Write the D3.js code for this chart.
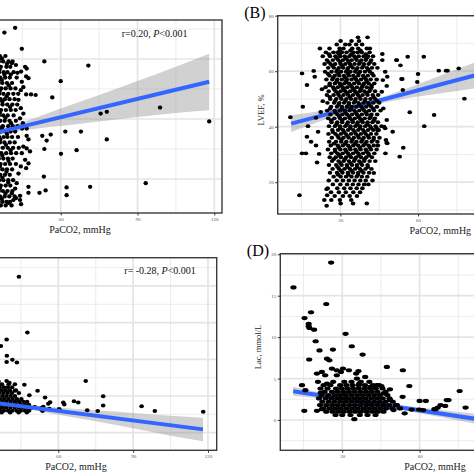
<!DOCTYPE html>
<html>
<head>
<meta charset="utf-8">
<script src="https://cdn.jsdelivr.net/npm/d3@7"></script>
<style>
  body { margin: 0; background: #fff; overflow: hidden; }
  svg { display: block; }
</style>
</head>
<body>
<div class="chart"></div>
<script>
// ---- data ----
var xTicks = [30, 60, 90, 120];
var xMinor = [15, 45, 75, 105];
var yTicksA = [10, 20, 30], yMinorA = [15, 25, 35];
var yTicksB = [20, 40, 60, 80], yMinorB = [10, 30, 50, 70];
var yTicksC = [0, 10, 20, 30, 40], yMinorC = [5, 15, 25, 35, 45];
var yTicksD = [0, 5, 10, 15, 20], yMinorD = [-2.5, 2.5, 7.5, 12.5, 17.5];

var statA = 'r=0.20, ';
var statC = 'r= -0.28, ';
var titleB = 'LVEF, %';
var titleD = 'Lac, mmol/L';
var xTitle = 'PaCO2, mmHg';

// regression fits (ends) and confidence band
var fitX = [11, 118];
var fitA = [15.3, 26.2];
var fitB = [41.1, 67.3];
var fitC = [10.2, 0.9];
var fitD = [3.47, -1.58];
var ciX = [11, 25, 38, 50, 60, 75, 90, 105, 118];
var ciLoA = [13.8, 15.87, 17.49, 18.36, 18.83, 19.6, 20.33, 21.0, 21.47];
var ciHiA = [16.8, 17.57, 18.59, 20.16, 21.73, 24.0, 26.33, 28.7, 30.87];
var ciLoB = [38.1, 42.9, 46.9, 49.3, 50.9, 52.9, 54.8, 56.8, 58.5];
var ciHiB = [44.1, 46.1, 48.5, 51.9, 55.3, 60.7, 66.0, 71.4, 76.1];
var ciLoC = [8.7, 8.2, 7.3, 6.1, 4.9, 3.1, 1.2, -0.8, -2.3];
var ciHiC = [11.7, 9.8, 8.3, 7.5, 6.9, 6.1, 5.4, 4.6, 4.1];
var ciLoD = [2.92, 2.5, 1.99, 1.38, 0.8, -0.05, -0.96, -1.82, -2.58];
var ciHiD = [4.02, 3.1, 2.39, 1.88, 1.5, 0.95, 0.44, -0.12, -0.58];

var pointsA = [
  [38,34.4],[42.2,35.2],[44.8,31.7],[53.6,29.6],[70.8,28.9],[60,26.3],[56.7,23.6],[48.4,24.1],[50.2,24],[46.5,24.1],
  [75.6,20.9],[78,21.2],[98.8,21.9],[118,19.6],[61.8,17.9],[67.9,17.9],[52.8,17.2],[56.1,17.4],[54.5,16.4],[78,16.6],
  [53.6,15],[60.1,14.2],[66.2,14.8],[93.2,9.3],[71.5,8.7],[62.3,8.6],[62.3,7.3],[53.4,10.4],[54.1,8.1],[51.7,7.7],
  [47.4,8.7],[47.4,7.7],[44.1,7.2],[44.1,6.5],[44.5,5.8],
  [40.9,29.3],[42.5,29],[46.1,28.7],[46.7,28.4],[44.5,27.9],[43.1,27.7],[46.5,27.1],[47.4,26.8],[44.8,26.2],[45.4,25.3],
  [44.4,24.8],[43.5,23.2],[44.4,21.8],[45.4,20.9],[44.1,20.1],[45.2,19.3],[46.7,18.4],[44.1,18.7],[44.9,18.4],[46.7,17.2],
  [47.4,16.6],[45.4,15.4],[46.7,15.1],[48,14.6],[44.8,14.3],[46.1,13.2],[47.4,12.6],[44.4,12.1],[46.5,11.8],[43.5,10.9],
  [42.8,9.3],[42.2,8.4],[40.9,7.6],[42.5,6.8],[41.5,6.5],[40.2,6.2],
  [36.2,30.5],[38.4,30.5],[35.8,29.6],[37.5,29.6],[39.6,29.6],[41.2,29.6],[36.6,28.7],[38.8,28.7],[40.3,28.7],
  [35.9,27.8],[37.7,27.8],[39.2,27.8],[41.6,27.8],[36.4,26.9],[38.3,26.9],[40.1,26.9],[42.8,26.9],
  [35.7,26],[37.2,26],[39,26],[41,26],[36.8,25.1],[38.5,25.1],[40.4,25.1],[42.3,25.1],
  [35.9,24.2],[37.6,24.2],[39.5,24.2],[41.5,24.2],[43.4,24.2],[36.5,23.3],[38.2,23.3],[40,23.3],[42,23.3],
  [35.6,22.4],[37.3,22.4],[39.1,22.4],[41.1,22.4],[43,22.4],[36.7,21.5],[38.6,21.5],[40.5,21.5],[42.4,21.5],
  [35.8,20.6],[37.5,20.6],[39.3,20.6],[41.6,20.6],[36.4,19.7],[38.1,19.7],[40,19.7],[42.5,19.7],
  [35.7,18.8],[37.4,18.8],[39.5,18.8],[41.3,18.8],[43.1,18.8],[36.6,17.9],[38.5,17.9],[40.4,17.9],[42.2,17.9],
  [35.9,17],[37.7,17],[39.2,17],[41,17],[43.3,17],[36.3,16.1],[38,16.1],[40.1,16.1],[42,16.1],
  [35.6,15.2],[37.4,15.2],[39.3,15.2],[41.4,15.2],[43.6,15.2],[36.8,14.3],[38.7,14.3],[40.6,14.3],[42.6,14.3],
  [35.8,13.4],[37.6,13.4],[39.4,13.4],[41.2,13.4],[36.5,12.5],[38.3,12.5],[40.2,12.5],[42.5,12.5],
  [35.7,11.6],[37.3,11.6],[39,11.6],[41,11.6],[36.4,10.7],[38.2,10.7],[40.1,10.7],
  [35.9,9.8],[37.6,9.8],[39.5,9.8],[41.4,9.8],[36.6,8.9],[38.5,8.9],[40.3,8.9],
  [35.8,8],[37.4,8],[39.2,8],[41.1,8],[36.3,7.1],[38.1,7.1],[39.9,7.1],[42,7.1],
  [35.7,6.2],[37.3,6.2],[38.9,6.2],[36.6,5.6],[38.5,5.6],[40.8,5.6],
  [37,30.1],[39,29.2],[36.1,28.3],[38,27.4],[40.5,27.4],[37,26.5],[39.7,25.6],[36.2,24.7],[38.9,23.8],[37.2,22.9],
  [40.2,22],[36.2,21.1],[38.4,20.2],[40.6,19.3],[37,18.4],[39,17.5],[36.4,16.6],[38.6,15.7],[40.4,14.8],[37.2,13.9],
  [39.6,13],[36.2,12.1],[38.8,11.2],[37.2,10.2],[39.5,9.4],[36.3,8.5],[38.4,7.6],[37,6.7],[39.7,6]
];

var pointsB = [
  [10.7,43.4],[14.2,15.3],[15.2,59.2],[15.5,47.2],[15.2,30.4],[16.7,30.4],[17.1,55],[17.5,40.2],[17.1,36.4],[18.7,34.6],
  [19.7,60.1],[20.1,58],[20.6,43.2],[20.6,33.2],[21,27.1],[21.8,30.2],[21.4,38.2],[22.4,45.3],[22.9,53.5],[23.2,49.2],
  [24.7,17.5],[24.9,15.3],[24.7,11.5],[23.8,13.6],[30.1,12.3],[34.9,12.3],[40.2,12.3],[40.8,19.2],[42.9,23.3],[44.4,38.6],
  [44.5,33.2],[47.4,30.4],[47.9,34.2],[50.2,38.2],[51.6,64],[52.9,29.2],[53.2,62.1],[53.6,57.2],[54.1,53.2],[54.3,32.4],
  [56,65.2],[56.8,45.2],[60,59],[59.7,56.1],[62.2,65.2],[62.4,40.2],[66.2,44.2],[68,60.2],[70.8,60.2],[71.4,60.2],
  [75.7,61],[77.9,50.1],[46.2,66.2],[46.2,64],[51.8,64],[53.9,57.2],
  [47.3,59.8],[48.1,58],[46.4,56.8],[47.9,54.7],[46,52.6],[46.6,46.6],[47.9,42.4],[46.9,40],[47.3,39.4],[47.6,35.2],[48.1,34],
  [36.8,72.2],[40.5,72.2],[30.1,70.9],[34.3,70.9],[37.2,70.9],
  [28.6,69.6],[31.9,69.6],[33.5,69.6],[36.1,69.6],[38.4,69.6],
  [22.1,68.2],[25.8,68.2],[29.7,68.2],[31.2,68.2],[34.6,68.2],[36.9,68.2],[40.2,68.2],[41.4,68.2],
  [24.4,66.8],[27.3,66.8],[28.9,66.8],[30.6,66.8],[32.4,66.8],[35.1,66.8],[36.7,66.8],[38.3,66.8],[41.3,66.8],
  [23.2,65.4],[26,65.4],[28.1,65.4],[30,65.4],[31.7,65.4],[33.5,65.4],[35.4,65.4],[37.1,65.4],[39,65.4],[40.7,65.4],[42.6,65.4],
  [24.8,64],[27.1,64],[29.2,64],[31,64],[32.8,64],[34.4,64],[36.3,64],[38.1,64],[39.8,64],[41.9,64],
  [23.9,62.6],[26.2,62.6],[28,62.6],[30.1,62.6],[31.9,62.6],[33.7,62.6],[35.5,62.6],[37.2,62.6],[39.1,62.6],[40.9,62.6],[43.1,62.6],
  [25.3,61.2],[27.5,61.2],[29.4,61.2],[31.1,61.2],[33,61.2],[34.8,61.2],[36.6,61.2],[38.4,61.2],[40.3,61.2],[42.2,61.2],[44.3,61.2],
  [24.1,59.8],[26.6,59.8],[28.5,59.8],[30.3,59.8],[32.2,59.8],[33.9,59.8],[35.7,59.8],[37.6,59.8],[39.5,59.8],[41.4,59.8],
  [25.8,58.4],[27.8,58.4],[29.6,58.4],[31.4,58.4],[33.3,58.4],[35,58.4],[36.9,58.4],[38.8,58.4],[40.6,58.4],[42.8,58.4],
  [24.6,57],[26.9,57],[28.8,57],[30.6,57],[32.5,57],[34.3,57],[36.1,57],[38,57],[39.9,57],[41.7,57],[44,57],
  [25.9,55.6],[27.9,55.6],[29.8,55.6],[31.6,55.6],[33.4,55.6],[35.3,55.6],[37.2,55.6],[39.1,55.6],[40.9,55.6],[43.1,55.6],
  [24.3,54.2],[27.2,54.2],[29,54.2],[30.9,54.2],[32.7,54.2],[34.6,54.2],[36.4,54.2],[38.3,54.2],[40.2,54.2],[42,54.2],
  [25.5,52.8],[28.2,52.8],[30.1,52.8],[31.9,52.8],[33.8,52.8],[35.6,52.8],[37.5,52.8],[39.3,52.8],[41.2,52.8],[43.4,52.8],
  [24.8,51.4],[27.4,51.4],[29.3,51.4],[31.2,51.4],[33,51.4],[34.9,51.4],[36.8,51.4],[38.6,51.4],[40.5,51.4],[42.5,51.4],[44.6,51.4],
  [26.1,50],[28.4,50],[30.4,50],[32.3,50],[34.1,50],[35.9,50],[37.8,50],[39.7,50],[41.6,50],[43.5,50],
  [25,48.6],[27.6,48.6],[29.6,48.6],[31.4,48.6],[33.3,48.6],[35.2,48.6],[37,48.6],[38.9,48.6],[40.8,48.6],[42.7,48.6],[45,48.6],
  [26.4,47.2],[28.7,47.2],[30.6,47.2],[32.5,47.2],[34.4,47.2],[36.2,47.2],[38.1,47.2],[40,47.2],[41.9,47.2],[44.1,47.2],
  [24.9,45.8],[27.8,45.8],[29.8,45.8],[31.7,45.8],[33.6,45.8],[35.4,45.8],[37.3,45.8],[39.2,45.8],[41.1,45.8],[43,45.8],[45.5,45.8],
  [26.2,44.4],[28.9,44.4],[30.8,44.4],[32.6,44.4],[34.5,44.4],[36.4,44.4],[38.3,44.4],[40.2,44.4],[42,44.4],[44.2,44.4],
  [25.3,43],[27.7,43],[29.9,43],[31.8,43],[33.7,43],[35.6,43],[37.5,43],[39.4,43],[41.3,43],[43.3,43],
  [26.6,41.6],[28.8,41.6],[30.7,41.6],[32.9,41.6],[34.8,41.6],[36.7,41.6],[38.6,41.6],[40.5,41.6],[42.4,41.6],[44.5,41.6],
  [25.6,40.2],[27.9,40.2],[29.9,40.2],[31.9,40.2],[33.9,40.2],[35.8,40.2],[37.7,40.2],[39.6,40.2],[41.5,40.2],[43.6,40.2],[45.9,40.2],
  [26.9,38.8],[29.1,38.8],[31,38.8],[33,38.8],[35,38.8],[36.9,38.8],[38.8,38.8],[40.7,38.8],[42.7,38.8],[44.8,38.8],
  [25.4,37.4],[28.1,37.4],[30.2,37.4],[32.1,37.4],[34.1,37.4],[36,37.4],[37.9,37.4],[39.8,37.4],[41.8,37.4],[43.9,37.4],
  [26.7,36],[29.3,36],[31.2,36],[33.2,36],[35.2,36],[37.1,36],[39,36],[41,36],[42.9,36],[45.1,36],
  [25.7,34.6],[28.3,34.6],[30.3,34.6],[32.3,34.6],[34.3,34.6],[36.2,34.6],[38.1,34.6],[40.1,34.6],[42.1,34.6],[44.3,34.6],
  [26.3,33.2],[29,33.2],[31,33.2],[33,33.2],[35,33.2],[36.9,33.2],[38.9,33.2],[40.9,33.2],[42.9,33.2],
  [25.2,31.8],[27.9,31.8],[30,31.8],[31.9,31.8],[33.9,31.8],[35.8,31.8],[37.8,31.8],[39.8,31.8],[41.8,31.8],[44,31.8],
  [26.5,30.4],[28.9,30.4],[30.9,30.4],[32.9,30.4],[34.9,30.4],[36.9,30.4],[38.8,30.4],[40.8,30.4],[43.1,30.4],
  [25.9,29],[28.2,29],[30.2,29],[32.2,29],[34.1,29],[36.1,29],[38,29],[40,29],[42.2,29],
  [26.8,27.6],[29.3,27.6],[31.3,27.6],[33.3,27.6],[35.3,27.6],[37.3,27.6],[39.2,27.6],[41.3,27.6],[43.5,27.6],
  [25.6,26.2],[28.4,26.2],[30.5,26.2],[32.5,26.2],[34.5,26.2],[36.4,26.2],[38.4,26.2],[40.5,26.2],
  [27,24.8],[29.5,24.8],[31.6,24.8],[33.7,24.8],[35.7,24.8],[37.6,24.8],[39.7,24.8],[42,24.8],
  [26,23.4],[28.7,23.4],[30.8,23.4],[32.9,23.4],[34.9,23.4],[36.9,23.4],[38.9,23.4],[41.1,23.4],
  [27.4,22],[30.1,22],[32.2,22],[34.3,22],[36.3,22],[38.3,22],[40.4,22],
  [25.5,20.6],[28.6,20.6],[31,20.6],[33.3,20.6],[35.5,20.6],[37.7,20.6],[39.8,20.6],[42.4,20.6],
  [27.1,19.2],[30,19.2],[32.6,19.2],[34.8,19.2],[37,19.2],[39.2,19.2],
  [25.1,17.8],[28.8,17.8],[31.5,17.8],[33.9,17.8],[36.3,17.8],[38.5,17.8],
  [26.4,16.4],[29.4,16.4],[32.1,16.4],[35,16.4],[37.6,16.4],
  [27.8,15],[31,15],[33.6,15],[36.4,15],[26.5,13.6],[29.8,13.6],[34.2,13.6],
  [29.8,67.5],[33.9,67.5],[37.8,67.5],[25.6,66.1],[29.6,66.1],[34.2,66.1],[39.8,66.1],
  [28.6,64.7],[32.1,64.7],[35.9,64.7],[40.1,64.7],[25.4,63.3],[29.9,63.3],[33.2,63.3],[37.7,63.3],[41.6,63.3],
  [27,61.9],[30.8,61.9],[34.1,61.9],[38.9,61.9],[28.9,60.5],[32.7,60.5],[36.2,60.5],[40.8,60.5],
  [25.2,59.1],[29.2,59.1],[33,59.1],[37,59.1],[42.3,59.1],[27.2,57.7],[31.9,57.7],[35.6,57.7],[39.3,57.7],
  [28.6,56.3],[32.2,56.3],[36.6,56.3],[40.2,56.3],[25.8,54.9],[30.2,54.9],[34,54.9],[38.7,54.9],[42.1,54.9],
  [27.6,53.5],[31.3,53.5],[35.1,53.5],[37.9,53.5],[41.6,53.5],[29,52.1],[32.6,52.1],[36.3,52.1],[40.1,52.1],
  [25.9,50.7],[30,50.7],[33.7,50.7],[37.4,50.7],[42.8,50.7],[27.9,49.3],[31.9,49.3],[35.7,49.3],[39.5,49.3],[44.2,49.3],
  [29.3,47.9],[33.2,47.9],[37.3,47.9],[41,47.9],[26,46.5],[30.5,46.5],[34,46.5],[38.6,46.5],[42.7,46.5],
  [28.1,45.1],[32,45.1],[35.9,45.1],[39.9,45.1],[29.6,43.7],[33.4,43.7],[37,43.7],[41.7,43.7],
  [26.5,42.3],[30.7,42.3],[34.6,42.3],[38.2,42.3],[43,42.3],[28.5,40.9],[32.5,40.9],[36.5,40.9],[40.4,40.9],
  [30,39.5],[33.8,39.5],[37.6,39.5],[41.9,39.5],[44,39.5],[27.1,38.1],[31.4,38.1],[35.5,38.1],[39.3,38.1],
  [28.9,36.7],[32.7,36.7],[36.8,36.7],[40.6,36.7],[30.4,35.3],[34.6,35.3],[38.5,35.3],[42.8,35.3],
  [27.5,33.9],[31.8,33.9],[35.7,33.9],[39.6,33.9],[29.4,32.5],[33.6,32.5],[37.5,32.5],[41.4,32.5],
  [28,31.1],[32.3,31.1],[36.2,31.1],[40.2,31.1],[29.6,29.7],[33.5,29.7],[37.2,29.7],[41,29.7],
  [27.4,28.3],[31.7,28.3],[35.6,28.3],[39.3,28.3],[30,26.9],[33.9,26.9],[37.8,26.9],
  [28.9,25.5],[32.7,25.5],[36.5,25.5],[40.6,25.5],[30.3,24.1],[34.3,24.1],[38.2,24.1],[29.1,22.7],[33.1,22.7],[36.8,22.7]
];

var pointsC = [
  [44.2,42.5],[47.6,27.3],[39.3,25.4],[37,23.6],[39.4,21],[39.3,19.3],[41.6,19.9],[43.4,19.1],[71,14.1],[78,9.9],
  [78,7.4],[93.4,7.2],[98.7,5.9],[118.1,5.7],[71.6,6.1],[75.8,5.9],[66.3,8.6],[68,8.2],[62,8.2],[62.4,7.7],
  [60.3,6.4],[56.4,6.5],[56,7.9],[54.7,9.6],[51.7,11.4],[48.4,10.2],[46.4,13.1],[53.3,6.8],[53.7,5.9],[53.2,6.3],
  [50.6,7],[42.6,13.2],[42.6,11.4],[39.3,14.1],[40.4,13.6],[56.7,8.3],[54,7.1],[60.4,6.4],
  [36,14],[35.8,13.2],[37.4,13.2],[40.1,13.2],[36.5,12.4],[38.2,12.4],[39.8,12.4],[41.5,12.4],
  [35.7,11.6],[37.3,11.6],[38.9,11.6],[40.6,11.6],[43,11.6],[36.3,10.8],[38,10.8],[39.7,10.8],[41.4,10.8],[44.2,10.8],
  [35.9,10],[37.6,10],[39.2,10],[40.9,10],[42.6,10],[36.6,9.2],[38.3,9.2],[40,9.2],[41.7,9.2],[43.4,9.2],[45.2,9.2],
  [35.8,8.4],[37.5,8.4],[39.2,8.4],[40.9,8.4],[42.6,8.4],[44.3,8.4],[46,8.4],[47.5,8.4],
  [36.4,7.6],[38.1,7.6],[39.8,7.6],[41.5,7.6],[43.2,7.6],[44.9,7.6],[46.6,7.6],[48.2,7.6],
  [35.7,6.8],[37.4,6.8],[39.1,6.8],[40.8,6.8],[42.5,6.8],[44.2,6.8],[45.9,6.8],[47.6,6.8],[49.1,6.8],
  [36.5,6],[38.2,6],[39.9,6],[41.6,6],[43.3,6],[45,6],[46.7,6],[48.3,6],[37.3,5.5],[40.7,5.5],[44.1,5.5],[47.4,5.5]
];

var pointsD = [
  [11.1,16],[25.7,19],[23.8,14],[17.9,13],[15.4,12.3],[17,11.6],[17,11.3],[17.3,11.1],[19.1,10.9],[19.7,9.5],
  [21.2,8.4],[26.4,8.5],[17.2,7.3],[24.1,7.4],[25,7.2],[31.3,10.4],[33.7,8.9],[37.9,7.9],[47.3,6.4],[53.5,6],
  [14.4,4.2],[15.7,3.6],[15.3,1.1],[56,4.1],[60,2.3],[62.4,2.3],[56.9,1.25],[59.8,1.25],[66.2,1.3],[68.1,1.8],
  [71.2,2.4],[75.5,3.5],[77.8,1.5],[54.2,0.8],[34.7,0.1],[53.4,2.8],[48.5,3.7],[45.2,4.1],[52.4,1.4],[61.4,1.2],
  [70.5,2.4],[69.9,1.7],[67,1.5],[65.7,1.3],
  [26,6.2],[27.9,6],[29.5,5.8],[30.3,6.2],[32.6,6],[35.4,5.6],[36.3,5.9],[35.7,5],[38.9,5.2],[36.6,4.4],
  [20.6,4.6],[22.1,5.8],[20.2,5.6],[24.1,4.4],[21.7,3.3],[27.9,5.4],[40.9,4],[43.4,4.2],[46,3.2],[48.6,2.4],
  [51.2,1.8],[49.9,1.2],[20.2,1.1],[22.1,1.3],[23.4,5.4],
  [26.5,4.6],[30.8,4.6],[33.6,4.6],[37.2,4.6],[40.5,4.6],
  [22.8,4.2],[25.4,4.2],[29.2,4.2],[31.6,4.2],[34,4.2],[36.4,4.2],[38.8,4.2],[41.8,4.2],[44.3,4.2],
  [21.6,3.8],[24.3,3.8],[27.6,3.8],[29.8,3.8],[32,3.8],[34.2,3.8],[36.4,3.8],[38.6,3.8],[40.8,3.8],[43,3.8],[45.6,3.8],
  [23.2,3.4],[26,3.4],[28.2,3.4],[30.4,3.4],[32.6,3.4],[34.8,3.4],[37,3.4],[39.2,3.4],[41.4,3.4],[43.6,3.4],[46.8,3.4],
  [22,3],[24.6,3],[27,3],[29.2,3],[31.4,3],[33.6,3],[35.8,3],[38,3],[40.2,3],[42.4,3],[44.6,3],[47.5,3],
  [21,2.6],[23.6,2.6],[25.9,2.6],[28.1,2.6],[30.3,2.6],[32.5,2.6],[34.7,2.6],[36.9,2.6],[39.1,2.6],[41.3,2.6],[43.5,2.6],[45.7,2.6],[48.3,2.6],
  [22.3,2.2],[24.8,2.2],[27,2.2],[29.2,2.2],[31.4,2.2],[33.6,2.2],[35.8,2.2],[38,2.2],[40.2,2.2],[42.4,2.2],[44.6,2.2],[46.8,2.2],[49.6,2.2],
  [21.4,1.8],[23.8,1.8],[26.1,1.8],[28.3,1.8],[30.5,1.8],[32.7,1.8],[34.9,1.8],[37.1,1.8],[39.3,1.8],[41.5,1.8],[43.7,1.8],[45.9,1.8],[48.2,1.8],[50.8,1.8],
  [22.6,1.4],[25,1.4],[27.2,1.4],[29.4,1.4],[31.6,1.4],[33.8,1.4],[36,1.4],[38.2,1.4],[40.4,1.4],[42.6,1.4],[44.8,1.4],[47,1.4],[49.4,1.4],
  [23.8,1],[26.2,1],[28.4,1],[30.6,1],[32.8,1],[35,1],[37.2,1],[39.4,1],[41.6,1],[43.8,1],[46,1],
  [27.4,0.6],[30,0.6],[33.2,0.6],[36.8,0.6],[39.8,0.6],[42.9,0.6]
];

// ---- drawing ----
var W = 474, H = 474;
var svg = d3.select('.chart')
  .append('svg')
  .attr('width', W)
  .attr('height', H);

function panel(o) {
  var x = d3.scaleLinear().domain(o.xDomain).range([o.left, o.right]);
  var y = d3.scaleLinear().domain(o.yDomain).range([o.bottom, o.top]);
  var g = svg.append('g');

  svg.append('clipPath').attr('id', 'clip' + o.name)
    .append('rect')
    .attr('x', o.left).attr('y', o.top)
    .attr('width', o.right - o.left).attr('height', o.bottom - o.top);

  var plot = g.append('g').attr('clip-path', 'url(#clip' + o.name + ')');

  // grid: minor first, major on top
  plot.selectAll('.vminor').data(xMinor).enter().append('line')
    .attr('x1', d => x(d)).attr('x2', d => x(d)).attr('y1', o.top).attr('y2', o.bottom)
    .attr('stroke', '#ececec').attr('stroke-width', 1);
  plot.selectAll('.hminor').data(o.yMinor).enter().append('line')
    .attr('y1', d => y(d)).attr('y2', d => y(d)).attr('x1', o.left).attr('x2', o.right)
    .attr('stroke', '#ececec').attr('stroke-width', 1);
  plot.selectAll('.vmajor').data(xTicks).enter().append('line')
    .attr('x1', d => x(d)).attr('x2', d => x(d)).attr('y1', o.top).attr('y2', o.bottom)
    .attr('stroke', '#e4e4e4').attr('stroke-width', 1.7);
  plot.selectAll('.hmajor').data(o.yTicks).enter().append('line')
    .attr('y1', d => y(d)).attr('y2', d => y(d)).attr('x1', o.left).attr('x2', o.right)
    .attr('stroke', '#e4e4e4').attr('stroke-width', 1.7);

  // confidence band
  var band = d3.area()
    .x((d, i) => x(ciX[i]))
    .y0((d, i) => y(o.lo[i]))
    .y1((d, i) => y(o.hi[i]))
    .curve(d3.curveMonotoneX);
  plot.append('path').datum(ciX).attr('d', band)
    .attr('fill', '#999').attr('fill-opacity', 0.45);

  function drawLine() {
    plot.append('line')
      .attr('x1', x(fitX[0])).attr('y1', y(o.fit[0]))
      .attr('x2', x(fitX[1])).attr('y2', y(o.fit[1]))
      .attr('stroke', '#3366ff').attr('stroke-width', 4);
  }
  if (!o.lineOnTop) drawLine();

  plot.selectAll('.pt').data(o.points).enter().append('ellipse')
    .attr('cx', d => x(d[0])).attr('cy', d => y(d[1]))
    .attr('rx', o.rx).attr('ry', o.ry)
    .attr('fill', '#000');

  if (o.lineOnTop) drawLine();

  // border
  g.append('rect')
    .attr('x', o.left).attr('y', o.top)
    .attr('width', o.right - o.left).attr('height', o.bottom - o.top)
    .attr('fill', 'none').attr('stroke', '#3a3a3a').attr('stroke-width', 1.4);

  // axes, only the ticks that fall inside the window
  var shownX = xTicks.filter(d => x(d) > 4 && x(d) < W - 4);
  var xAxis = d3.axisBottom(x).tickValues(shownX).tickSize(2.5).tickPadding(1.5);
  var axes = [g.append('g').attr('transform', 'translate(0,' + o.bottom + ')').call(xAxis)];
  if (o.left > 0) {
    var yAxis = d3.axisLeft(y).tickValues(o.yTicks).tickSize(2.5).tickPadding(1.5);
    axes.push(g.append('g').attr('transform', 'translate(' + o.left + ',0)').call(yAxis));
  }
  axes.forEach(function(a) {
    a.select('.domain').remove();
    a.selectAll('line').attr('stroke', '#333');
    a.selectAll('text')
      .attr('fill', '#555')
      .style('font-family', '"Liberation Serif", serif')
      .style('font-size', '5px');
  });

  // x title
  g.append('text')
    .attr('x', o.xTitleX).attr('y', o.bottom + 19.5)
    .attr('text-anchor', 'middle')
    .style('font-family', '"Liberation Serif", serif')
    .style('font-size', '10px')
    .attr('fill', '#222')
    .text(xTitle);

  if (o.yTitle) {
    g.append('text')
      .attr('transform', 'translate(' + o.yTitleX + ',' + o.yTitleY + ') rotate(-90)')
      .attr('text-anchor', 'middle')
      .style('font-family', '"Liberation Serif", serif')
      .style('font-size', '8.5px')
      .attr('fill', '#222')
      .text(o.yTitle);
  }

  if (o.tag) {
    g.append('text')
      .attr('x', o.left - 33.5).attr('y', o.top + 2)
      .style('font-family', '"Liberation Serif", serif')
      .style('font-size', '16px')
      .attr('fill', '#000')
      .text(o.tag);
  }

  if (o.stat) {
    var t = g.append('text')
      .attr('x', o.statX).attr('y', o.top + 16.7)
      .style('font-family', '"Liberation Serif", serif')
      .style('font-size', '10px')
      .attr('fill', '#111');
    t.append('tspan').text(o.stat);
    t.append('tspan').style('font-style', 'italic').text('P');
    t.append('tspan').text('<0.001');
  }
}

panel({
  name: 'A', left: -59.6, right: 222, top: 20, bottom: 213,
  xDomain: [13, 123], yDomain: [4.33, 36.5],
  yTicks: yTicksA, yMinor: yMinorA,
  points: pointsA, rx: 2.2, ry: 2.1,
  fit: fitA, lo: ciLoA, hi: ciHiA, lineOnTop: true,
  xTitleX: 80, stat: statA, statX: 121.7
});

panel({
  name: 'B', left: 277.7, right: 581.2, top: 15.7, bottom: 214,
  xDomain: [5.8, 123], yDomain: [8.54, 80],
  yTicks: yTicksB, yMinor: yMinorB,
  points: pointsB, rx: 2.3, ry: 1.95,
  fit: fitB, lo: ciLoB, hi: ciHiB, lineOnTop: false,
  xTitleX: 440.3, yTitle: titleB, yTitleX: 264, yTitleY: 110, tag: '(B)'
});

panel({
  name: 'C', left: -64.7, right: 216.7, top: 257.7, bottom: 450.3,
  xDomain: [10.7, 123.5], yDomain: [-4.8, 47.7],
  yTicks: yTicksC, yMinor: yMinorC,
  points: pointsC, rx: 2.3, ry: 2.0,
  fit: fitC, lo: ciLoC, hi: ciHiC, lineOnTop: true,
  xTitleX: 76, stat: statC, statX: 124.3
});

panel({
  name: 'D', left: 280.3, right: 582.2, top: 253.7, bottom: 450.3,
  xDomain: [6, 123], yDomain: [-3.66, 20.07],
  yTicks: yTicksD, yMinor: yMinorD,
  points: pointsD, rx: 3.1, ry: 2.1,
  fit: fitD, lo: ciLoD, hi: ciHiD, lineOnTop: false,
  xTitleX: 435, yTitle: titleD, yTitleX: 260.7, yTitleY: 347, tag: '(D)'
});
</script>
</body>
</html>
